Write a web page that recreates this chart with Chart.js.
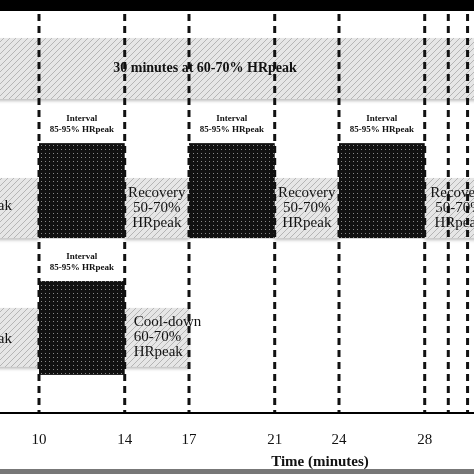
<!DOCTYPE html>
<html><head>
<script src="https://cdn.jsdelivr.net/npm/chart.js@4"></script>
<style>html,body{margin:0;padding:0;background:#fff}#wrap{width:474px;height:474px}</style>
</head><body><div id="wrap"><canvas id="c"></canvas></div>
<script>
// time axis
const tickLabels = [10, 14, 17, 21, 24, 28];
const dividers = [10, 14, 17, 21, 24, 28, 29.1, 30];
// row levels on a 0-100 vertical scale: [bottom, top]
const row1Band = [78.3, 93.5];
const row2Band = [43.6, 58.6];
const row2Work = [43.6, 67.3];
const row3Band = [11.5, 26.2];
const row3Work = [9.5, 32.9];
// segments: [start, end]
const continuous = [[8, 31]];
const row2Easy = [[8, 10], [14, 17], [21, 24], [28, 31]];
const row2Intervals = [[10, 14], [17, 21], [24, 28]];
const row3Easy = [[8, 10], [14, 17]];
const row3Intervals = [[10, 14]];

function hatch() {
  const p = document.createElement('canvas'); p.width = p.height = 6;
  const g = p.getContext('2d');
  g.fillStyle = '#e6e6e6'; g.fillRect(0, 0, 6, 6);
  g.strokeStyle = '#b5b5b5'; g.lineWidth = 1;
  g.beginPath(); g.moveTo(0, 6); g.lineTo(6, 0); g.moveTo(-3, 3); g.lineTo(3, -3); g.moveTo(3, 9); g.lineTo(9, 3); g.stroke();
  return p;
}
function dots() {
  const p = document.createElement('canvas'); p.width = p.height = 4;
  const g = p.getContext('2d');
  g.fillStyle = '#111'; g.fillRect(0, 0, 4, 4);
  g.fillStyle = '#888'; g.fillRect(1, 1, 1, 1);
  return p;
}

const drawPlugin = {
  id: 'protocol',
  beforeDatasetsDraw(chart) {
    const ctx = chart.ctx, x = chart.scales.x, y = chart.scales.y, a = chart.chartArea;
    const H = ctx.createPattern(hatch(), 'repeat'), D = ctx.createPattern(dots(), 'repeat');
    function box(seg, lv, fill, shadow) {
      const x0 = x.getPixelForValue(seg[0]), x1 = x.getPixelForValue(seg[1]);
      const y0 = y.getPixelForValue(lv[1]), y1 = y.getPixelForValue(lv[0]);
      ctx.save();
      if (shadow) { ctx.shadowColor = 'rgba(0,0,0,0.25)'; ctx.shadowOffsetY = 2; ctx.shadowBlur = 3; }
      ctx.fillStyle = fill; ctx.fillRect(x0, y0, x1 - x0, y1 - y0);
      ctx.restore();
    }
    continuous.forEach(s => box(s, row1Band, H, true));
    row2Easy.forEach(s => box(s, row2Band, H, true));
    row3Easy.forEach(s => box(s, row3Band, H, true));
    row2Intervals.forEach(s => box(s, row2Work, D));
    row3Intervals.forEach(s => box(s, row3Work, D));

    // dashed dividers
    ctx.save();
    ctx.strokeStyle = '#111'; ctx.lineWidth = 3; ctx.setLineDash([7, 5]);
    dividers.forEach(v => {
      const px = x.getPixelForValue(v);
      ctx.beginPath(); ctx.moveTo(px, a.top + 2); ctx.lineTo(px, a.bottom); ctx.stroke();
    });
    ctx.restore();

    // frame
    ctx.fillStyle = '#000'; ctx.fillRect(0, 0, 474, 11);
    ctx.fillRect(0, a.bottom - 1, 474, 2);
    ctx.fillStyle = '#777'; ctx.fillRect(0, 469, 474, 5);

    // texts
    ctx.fillStyle = '#111'; ctx.textAlign = 'center'; ctx.textBaseline = 'middle';
    ctx.font = 'bold 14px "Liberation Serif"';
    ctx.fillText('30 minutes at 60-70% HRpeak', 205, y.getPixelForValue((row1Band[0] + row1Band[1]) / 2));
    ctx.font = 'bold 9px "Liberation Serif"';
    const lab = (s, top) => {
      const cx = (x.getPixelForValue(s[0]) + x.getPixelForValue(s[1])) / 2, ty = y.getPixelForValue(top);
      ctx.fillText('Interval', cx, ty - 24);
      ctx.fillText('85-95% HRpeak', cx, ty - 13);
    };
    row2Intervals.forEach(s => lab(s, row2Work[1]));
    row3Intervals.forEach(s => lab(s, row3Work[1]));
    ctx.font = '15px "Liberation Serif"';
    const three = (cx, cy, l) => l.forEach((t, i) => ctx.fillText(t, cx, cy + (i - 1) * 15));
    const mid2 = y.getPixelForValue((row2Band[0] + row2Band[1]) / 2);
    [row2Easy[1], row2Easy[2], row2Easy[3]].forEach(s => {
      const cx = (x.getPixelForValue(s[0]) + x.getPixelForValue(Math.min(s[1], 31))) / 2;
      three(s === row2Easy[3] ? x.getPixelForValue(29.6) : cx, mid2, ['Recovery', '50-70%', 'HRpeak']);
    });
    ctx.textAlign = 'right';
    ctx.fillText('HRpeak', 12, mid2 - 2);
    const mid3 = y.getPixelForValue((row3Band[0] + row3Band[1]) / 2);
    ctx.fillText('HRpeak', 12, mid3 + 2);
    ctx.textAlign = 'left';
    three(x.getPixelForValue(row3Easy[1][0]) + 9, mid3, ['Cool-down', '60-70%', 'HRpeak']);

    // tick labels
    ctx.textAlign = 'center';
    tickLabels.forEach(v => ctx.fillText(String(v), x.getPixelForValue(v), a.bottom + 27));
    ctx.font = 'bold 15px "Liberation Serif"';
    ctx.fillText('Time (minutes)', 320, a.bottom + 49);
  }
};

new Chart(document.getElementById('c'), {
  type: 'scatter',
  data: { datasets: [{ data: [] }] },
  options: {
    responsive: true, maintainAspectRatio: false, animation: false,
    layout: { padding: { top: 12, bottom: 61, left: 0, right: 0 } },
    plugins: { legend: { display: false }, tooltip: { enabled: false } },
    scales: {
      x: { type: 'linear', min: 8.18, max: 30.3, display: false },
      y: { type: 'linear', min: 0, max: 100, display: false }
    }
  },
  plugins: [drawPlugin]
});
</script></body></html>
